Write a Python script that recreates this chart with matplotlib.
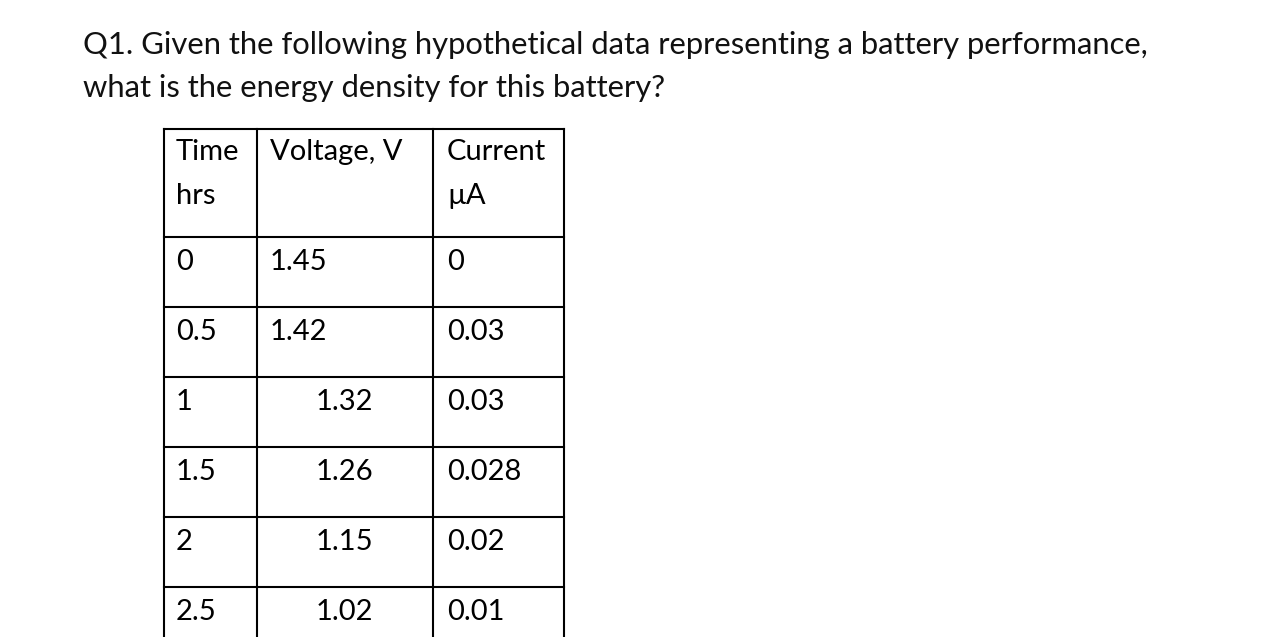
import matplotlib.pyplot as plt

plt.rcParams['font.family'] = ['Lato', 'DejaVu Sans']

question = ["Q1. Given the following hypothetical data representing a battery performance,",
            "what is the energy density for this battery?"]
header_top = ["Time", "Voltage, V", "Current"]
header_bottom = ["hrs", "", "µA"]
times = ["0", "0.5", "1", "1.5", "2", "2.5"]
voltages = ["1.45", "1.42", "1.32", "1.26", "1.15", "1.02"]
currents = ["0", "0.03", "0.03", "0.028", "0.02", "0.01"]

fig = plt.figure(figsize=(12.8, 6.37), dpi=100)
ax = fig.add_axes([0, 0, 1, 1])
ax.set_xlim(0, 1280)
ax.set_ylim(637, 0)
ax.axis("off")

# question text
for i, line in enumerate(question):
    ax.text(83, 45 + i * 43, line, fontsize=22.3, va="center", ha="left", color="#111111")

# table grid
col_x = [164, 257, 433, 564]
row_y = [129, 237, 307, 377, 447, 517, 587]
bottom = 640
for x in col_x:
    ax.plot([x, x], [row_y[0], bottom], color="black", lw=1.5)
for y in row_y:
    ax.plot([col_x[0], col_x[-1]], [y, y], color="black", lw=1.5)

fs = 21
# header
hx = [176, 270, 447]
for j in range(3):
    ax.text(hx[j], 152, header_top[j], fontsize=fs, va="center", ha="left")
    ax.text(hx[j], 196, header_bottom[j], fontsize=fs, va="center", ha="left")

# data rows
for i in range(len(times)):
    y = 262 + i * 70
    ax.text(176, y, times[i], fontsize=fs, va="center", ha="left")
    vx = 270 if i < 2 else 316
    ax.text(vx, y, voltages[i], fontsize=fs, va="center", ha="left")
    ax.text(447, y, currents[i], fontsize=fs, va="center", ha="left")

fig.savefig("out.png", dpi=100)
